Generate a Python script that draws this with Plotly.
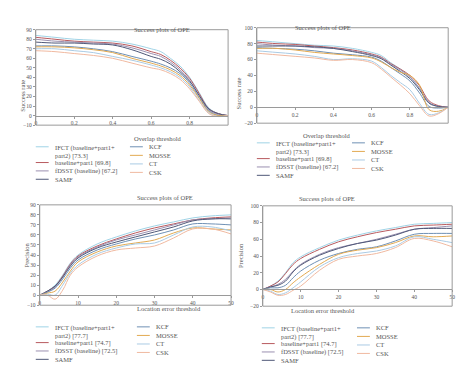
import plotly.graph_objects as go

# the page body has an 8px margin, so the figure is drawn 8px in from the window's corner
OFF = 8
W, H = 474 - OFF, 383 - OFF

names = ["IFCT", "baseline+part1", "fDSST", "SAMF", "KCF", "MOSSE", "CT", "CSK"]
colors = ["#9fd3e6", "#b85a5e", "#9b90b0", "#4f5878", "#6f90b4", "#e2aa52", "#aacbe4", "#f0b9a0"]

labels_success = ["IFCT (baseline+part1+<br>part2) [73.3]", "baseline+part1 [69.8]", "fDSST (baseline) [67.2]",
                  "SAMF", "KCF", "MOSSE", "CT", "CSK"]
labels_precision = ["IFCT (baseline+part1+<br>part2) [77.7]", "baseline+part1 [74.7]", "fDSST (baseline) [72.5]",
                    "SAMF", "KCF", "MOSSE", "CT", "CSK"]

success_x = [0, 0.1, 0.2, 0.3, 0.4, 0.5, 0.6, 0.65, 0.7, 0.75, 0.8, 0.85, 0.9, 0.95, 1.0]
precision_x = [0, 2, 4, 6, 8, 10, 15, 20, 25, 30, 35, 40, 45, 50]

success_tl = [
    [84, 82, 80, 79, 78, 75, 70, 67, 60, 52, 40, 24, 8, 2, 0],
    [82, 80, 78, 77, 76, 73, 67, 64, 58, 50, 39, 23, 7, 2, 0],
    [80, 78, 77, 76, 75, 71, 65, 62, 56, 48, 37, 21, 6, 1, 0],
    [77, 76, 76, 75, 74, 69, 62, 59, 54, 46, 36, 21, 7, 2, 0],
    [73, 73, 72, 70, 67, 62, 57, 54, 50, 44, 34, 19, 5, 0, 0],
    [72, 72, 71, 69, 66, 60, 55, 52, 48, 42, 32, 18, 4, 0, 0],
    [70, 70, 68, 66, 62, 58, 53, 50, 46, 40, 30, 16, 3, -1, 0],
    [68, 67, 65, 63, 60, 55, 50, 48, 44, 38, 28, 15, 2, -1, 0],
]
success_tr = [
    [84, 82, 80, 78, 77, 74, 69, 65, 56, 48, 38, 24, 6, 1, 0],
    [82, 80, 79, 77, 75, 72, 67, 63, 55, 48, 40, 27, 8, 2, 0],
    [80, 78, 77, 75, 74, 71, 66, 62, 54, 47, 38, 24, 6, 1, 0],
    [77, 77, 77, 76, 74, 70, 65, 61, 53, 45, 36, 22, 5, 1, 0],
    [75, 74, 73, 71, 68, 66, 63, 58, 50, 42, 33, 18, 1, -1, 0],
    [74, 74, 72, 69, 67, 65, 62, 57, 50, 44, 40, 28, -3, -5, 0],
    [71, 69, 67, 64, 60, 61, 58, 50, 40, 31, 22, 5, -9, -7, 0],
    [68, 66, 64, 62, 59, 60, 56, 48, 38, 28, 17, 2, -11, -8, 0],
]
precision_bl = [
    [0, 4, 10, 20, 32, 40, 51, 58, 64, 69, 73, 77, 79, 80],
    [0, 4, 9, 19, 31, 39, 49, 56, 62, 67, 71, 75, 77, 78],
    [0, 3, 8, 18, 30, 38, 48, 55, 60, 65, 70, 75, 76, 77],
    [0, 4, 9, 18, 29, 37, 47, 53, 58, 63, 68, 74, 76, 76],
    [0, 3, 7, 16, 27, 35, 45, 51, 56, 60, 65, 71, 71, 70],
    [0, 2, 4, 13, 24, 33, 43, 49, 52, 55, 62, 67, 66, 65],
    [0, 1, 0, 10, 22, 30, 41, 47, 51, 52, 60, 68, 68, 64],
    [0, 0, -4, 5, 20, 28, 39, 45, 47, 49, 57, 66, 66, 61],
]
precision_br = [
    [0, 4, 10, 20, 32, 39, 50, 59, 65, 70, 74, 78, 79, 80],
    [0, 4, 9, 19, 30, 37, 48, 57, 63, 68, 72, 76, 77, 78],
    [0, 3, 6, 12, 22, 30, 42, 50, 55, 60, 66, 72, 74, 76],
    [0, 3, 5, 10, 21, 29, 41, 49, 55, 59, 65, 72, 73, 73],
    [0, 2, 2, 5, 14, 22, 35, 43, 48, 51, 58, 66, 67, 67],
    [0, 0, -3, 0, 8, 15, 30, 42, 47, 50, 56, 64, 63, 64],
    [0, -2, -6, -4, 2, 9, 27, 38, 43, 46, 52, 63, 60, 56],
    [0, -3, -7, -6, -1, 4, 23, 36, 40, 43, 50, 61, 58, 51],
]

FONT = "Liberation Serif, Times New Roman, serif"
TXT = "#555555"
AX = "#9a9a9a"
TICK = 5.5
LAB = 6.5


def px_x(p):
    return (p - OFF) / W


def px_y(p):
    return 1 - (p - OFF) / H


# panel layout in window pixels: plot box (left, right, top, bottom), ranges, ticks, legend origin
panels = [
    dict(x=success_x, ys=success_tl, labels=labels_success, box=(35, 229, 27, 124),
         xr=[0, 1], yr=[-10, 90], xt=[0, 0.2, 0.4, 0.6, 0.8], xtt=["0", "0.2", "0.4", "0.6", "0.8"],
         ydt=10, xtitle="Overlap threshold", ytitle="Success rate", title_y=21, xtitle_y=132, ytitle_x=16,
         leg=(35, 146), col2=95),
    dict(x=success_x, ys=success_tr, labels=labels_success, box=(258, 451, 25, 122),
         xr=[0, 1], yr=[-20, 100], xt=[0, 0.2, 0.4, 0.6, 0.8], xtt=["0", "0.2", "0.4", "0.6", "0.8"],
         ydt=20, xtitle="Overlap threshold", ytitle="Success rate", title_y=19, xtitle_y=129, ytitle_x=239,
         leg=(258, 142), col2=96),
    dict(x=precision_x, ys=precision_bl, labels=labels_precision, box=(39, 232, 205, 307),
         xr=[0, 50], yr=[-10, 90], xt=[0, 10, 20, 30, 40, 50], xtt=["0", "10", "20", "30", "40", "50"],
         ydt=10, xtitle="Location error threshold", ytitle="Precision", title_y=198, xtitle_y=316, ytitle_x=20,
         leg=(35, 329), col2=102),
    dict(x=precision_x, ys=precision_br, labels=labels_precision, box=(264, 455, 206, 308),
         xr=[0, 50], yr=[-20, 100], xt=[0, 10, 20, 30, 40, 50], xtt=["0", "10", "20", "30", "40", "50"],
         ydt=20, xtitle="Location error threshold", ytitle="Precision", title_y=199, xtitle_y=318, ytitle_x=241,
         leg=(263, 330), col2=96),
]

fig = go.Figure()
layout = dict(width=W, height=H, margin=dict(l=0, r=0, t=0, b=0),
              paper_bgcolor="white", plot_bgcolor="white", showlegend=False,
              font=dict(family=FONT, size=6, color=TXT))
shapes = []
annotations = []

for i, p in enumerate(panels):
    n = "" if i == 0 else str(i + 1)
    xa, ya = "x" + n, "y" + n
    l, r, t, b = p["box"]
    xd = [px_x(l), px_x(r)]
    yd = [px_y(b), px_y(t)]
    y0pos = yd[0] + (0 - p["yr"][0]) / (p["yr"][1] - p["yr"][0]) * (yd[1] - yd[0])
    layout["xaxis" + n] = dict(domain=xd, range=p["xr"], anchor="free", position=y0pos,
                               showgrid=False, zeroline=False, showline=True,
                               linecolor=AX, linewidth=1, ticks="outside", ticklen=2, tickcolor=AX,
                               tickvals=p["xt"], ticktext=p["xtt"],
                               tickfont=dict(size=TICK, color=TXT, family=FONT))
    layout["yaxis" + n] = dict(domain=yd, range=p["yr"], anchor=xa, showgrid=False, zeroline=False,
                               showline=True, linecolor=AX, linewidth=1, ticks="outside", ticklen=2,
                               tickcolor=AX, dtick=p["ydt"], tick0=0,
                               tickfont=dict(size=TICK, color=TXT, family=FONT))
    shapes.append(dict(type="rect", xref=xa + " domain", yref=ya + " domain", x0=0, x1=1, y0=0, y1=1,
                       line=dict(color=AX, width=1), layer="above"))
    for k in range(8):
        fig.add_trace(go.Scatter(x=p["x"], y=p["ys"][k], mode="lines", name=names[k],
                                 line=dict(color=colors[k], width=1, shape="spline", smoothing=1),
                                 xaxis=xa, yaxis=ya, hoverinfo="skip"))
    cx = (l + r) / 2
    annotations.append(dict(text="Success plots of OPE", x=px_x(cx), y=px_y(p["title_y"]), xref="paper",
                            yref="paper", showarrow=False, font=dict(size=LAB, color=TXT, family=FONT)))
    annotations.append(dict(text=p["xtitle"], x=px_x(cx), y=px_y(p["xtitle_y"]), xref="paper",
                            yref="paper", showarrow=False, font=dict(size=LAB, color=TXT, family=FONT)))
    annotations.append(dict(text=p["ytitle"], x=px_x(p["ytitle_x"]), y=px_y((t + b) / 2), xref="paper",
                            yref="paper", showarrow=False, textangle=-90,
                            font=dict(size=LAB, color=TXT, family=FONT)))
    # manual legend (two columns)
    lx, ly = p["leg"]
    rows1 = [0, 16, 24.5, 33]
    rows2 = [0, 8.7, 17.4, 26]
    for k in range(8):
        if k < 4:
            x0 = lx
            yy = ly + rows1[k]
        else:
            x0 = lx + p["col2"]
            yy = ly + rows2[k - 4]
        shapes.append(dict(type="line", xref="paper", yref="paper", x0=px_x(x0), x1=px_x(x0 + 13),
                           y0=px_y(yy), y1=px_y(yy), line=dict(color=colors[k], width=1)))
        lab = p["labels"][k]
        if "<br>" in lab:
            annotations.append(dict(text=lab, x=px_x(x0 + 17), y=px_y(yy - 4.5), xref="paper", yref="paper",
                                    xanchor="left", yanchor="top", align="left", showarrow=False,
                                    font=dict(size=LAB, color=TXT, family=FONT)))
        else:
            annotations.append(dict(text=lab, x=px_x(x0 + 17), y=px_y(yy), xref="paper", yref="paper",
                                    xanchor="left", yanchor="middle", align="left", showarrow=False,
                                    font=dict(size=LAB, color=TXT, family=FONT)))

layout["shapes"] = shapes
layout["annotations"] = annotations
fig.update_layout(**layout)
fig.write_html("out.html")
